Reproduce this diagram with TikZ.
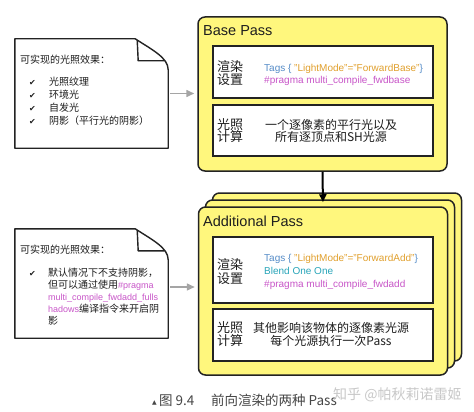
\documentclass[tikz,border=0pt]{standalone}
\usepackage{fontspec}
\setmainfont{Liberation Sans}
\newfontfamily\cjk{Noto Sans CJK SC}
\newfontfamily\symf{DejaVu Sans}
\usetikzlibrary{arrows.meta,calc}
\definecolor{passyellow}{RGB}{255,247,125}
\definecolor{edgec}{RGB}{35,35,35}
\definecolor{tagblue}{RGB}{85,140,200}
\definecolor{taggold}{RGB}{225,160,45}
\definecolor{pragmag}{RGB}{200,85,200}
\definecolor{blendteal}{RGB}{40,165,185}
\definecolor{arrowgray}{RGB}{165,165,165}
\definecolor{captiongray}{RGB}{70,70,70}
\definecolor{wmgray}{RGB}{200,200,200}
\definecolor{txtc}{RGB}{30,30,30}
\newcommand{\pcodefont}{\color{pragmag}\rmfamily\fontsize{9}{9}\selectfont}
\begin{document}
\begin{tikzpicture}[x=1pt,y=-1pt,
  passbox/.style={draw=edgec, line width=1.5pt, fill=passyellow, rounded corners=7pt,
    minimum width=249pt, inner sep=0pt},
  innerbox/.style={draw=edgec, line width=1.5pt, fill=white, minimum width=220pt, inner sep=0pt},
  notearea/.style={minimum width=153pt, minimum height=109pt, inner sep=0pt},
  noteline/.style={draw=edgec, line width=1.4pt, line join=round},
  title/.style={anchor=base west, inner sep=0pt, font=\fontsize{14.5}{15}\selectfont, text=txtc},
  lbl/.style={anchor=base west, inner sep=0pt, font=\cjk\fontsize{13}{13}\selectfont, text=txtc},
  desc/.style={anchor=base, inner sep=0pt, font=\cjk\fontsize{12}{12}\selectfont, text=txtc},
  code/.style={anchor=base west, inner sep=0pt, font=\fontsize{10}{10}\selectfont},
  notetxt/.style={anchor=base west, inner sep=0pt, font=\cjk\fontsize{10}{10}\selectfont, text=txtc},
  chk/.style={anchor=base west, inner sep=0pt, font=\symf\fontsize{8}{8}\selectfont, text=txtc},
  pcode/.style={text=pragmag, font=\fontsize{9}{9}\selectfont},
  grayarr/.style={draw=arrowgray, line width=1.5pt, -{Triangle[length=8pt,width=7pt]},
    shorten <=2pt, shorten >=3pt},
  blackarr/.style={draw=black, line width=2pt, -{Triangle[length=8pt,width=7pt]}, shorten >=4pt}
]
\useasboundingbox (0,0) rectangle (474,412);
\fill[white] (0,0) rectangle (474,412);

% ---------- Base Pass ----------
\node[passbox, minimum height=154pt] (base) at (322.5,94) {};
\node[innerbox, minimum height=52pt] (bset) at (323,72) {};
\node[innerbox, minimum height=51pt] (bcalc) at (323,130.5) {};
\node[title] (btitle) at (203,36) {Base Pass};
\node[lbl] (bl1) at (217,72) {渲染};
\node[lbl] (bl2) at (217,84.5) {设置};
\node[code] (bc1) at (264,71) {{\color{tagblue}Tags \{ }{\color{taggold}"LightMode"="ForwardBase"}{\color{tagblue}\}}};
\node[code, text=pragmag] (bc2) at (264,84) {\#pragma multi\_compile\_fwdbase};
\node[lbl] (bl3) at (217,129) {光照};
\node[lbl] (bl4) at (217,141.5) {计算};
\node[desc] (bd1) at (331,129) {一个逐像素的平行光以及};
\node[desc] (bd2) at (331,141.5) {所有逐顶点和SH光源};

% ---------- Additional Pass ----------
\node[passbox, minimum height=168pt] (addback) at (337,277) {};
\node[passbox, minimum height=168pt] (addmid) at (330,284) {};
\node[passbox, minimum height=168pt] (addfront) at (323,291) {};
\node[innerbox, minimum height=66pt] (aset) at (323,270) {};
\node[innerbox, minimum height=52pt] (acalc) at (323,335) {};
\node[title] (atitle) at (203,226) {Additional Pass};
\node[lbl] (al1) at (217,269) {渲染};
\node[lbl] (al2) at (217,283) {设置};
\node[code] (ac1) at (264,261.5) {{\color{tagblue}Tags \{ }{\color{taggold}"LightMode"="ForwardAdd"}{\color{tagblue}\}}};
\node[code, text=blendteal] (ac2) at (264,274.5) {Blend One One};
\node[code, text=pragmag] (ac3) at (264,287.5) {\#pragma multi\_compile\_fwdadd};
\node[lbl] (al3) at (217,332) {光照};
\node[lbl] (al4) at (217,345.5) {计算};
\node[desc] (ad1) at (331,332) {其他影响该物体的逐像素光源};
\node[desc] (ad2) at (331,345.5) {每个光源执行一次Pass};

% ---------- Notes ----------
\node[notearea] (note1) at (91.5,93.5) {};
\draw[noteline] (note1.north west) -- ($(note1.north east)+(-33,0)$)
  .. controls ($(note1.north east)+(-16,11)$) and ($(note1.north east)+(0,19)$) .. ($(note1.north east)+(0,31)$)
  -- (note1.south east) -- (note1.south west) -- cycle;
\draw[noteline] ($(note1.north east)+(-31,1)$) -- ($(note1.north east)+(-30,22)$) -- ($(note1.north east)+(-3.5,22)$);
\node[notetxt] (n1t) at (20,63.5) {可实现的光照效果：};
\node[chk] (n1ca) at (29,85) {✔};
\node[chk] (n1cb) at (29,98.5) {✔};
\node[chk] (n1cc) at (29,111) {✔};
\node[chk] (n1cd) at (29,124) {✔};
\node[notetxt] (n1a) at (49,85) {光照纹理};
\node[notetxt] (n1b) at (49,98.5) {环境光};
\node[notetxt] (n1c) at (49,111) {自发光};
\node[notetxt] (n1d) at (49,124) {阴影（平行光的阴影）};

\node[notearea] (note2) at (91.5,283.5) {};
\draw[noteline] (note2.north west) -- ($(note2.north east)+(-33,0)$)
  .. controls ($(note2.north east)+(-16,11)$) and ($(note2.north east)+(0,19)$) .. ($(note2.north east)+(0,31)$)
  -- (note2.south east) -- (note2.south west) -- cycle;
\draw[noteline] ($(note2.north east)+(-31,1)$) -- ($(note2.north east)+(-30,22)$) -- ($(note2.north east)+(-3.5,22)$);
\node[notetxt] (n2t) at (20,253.5) {可实现的光照效果：};
\node[chk] (n2c) at (29,276) {✔};
\node[notetxt] (n2a) at (48,276) {默认情况下不支持阴影，};
\node[notetxt] (n2b) at (48,288.5) {但可以通过使用{\pcodefont\#pragma}};
\node[notetxt, pcode] (n2c2) at (48,300.5) {multi\_compile\_fwdadd\_fulls};
\node[notetxt] (n2d) at (48,312.5) {{\pcodefont hadows}编译指令来开启阴};
\node[notetxt] (n2e) at (48,324.5) {影};

% ---------- Connectors ----------
\draw[grayarr] (note1.east) -- (note1.east -| base.west);
\draw[grayarr] ([yshift=-3.5pt]note2.east) -- ([yshift=-3.5pt]note2.east -| addfront.west);
\draw[blackarr] (base.south) -- (addfront.north);

% ---------- Caption ----------
\node[anchor=base west, inner sep=0pt, font=\symf\fontsize{6}{6}\selectfont, text=captiongray] (captri) at (152,404) {▲};
\node[anchor=base west, inner sep=0pt, font=\cjk\fontsize{13.5}{13.5}\selectfont, text=captiongray] (cap1) at (159,405) {图 9.4};
\node[anchor=base west, inner sep=0pt, font=\cjk\fontsize{13.5}{13.5}\selectfont, text=captiongray] (cap2) at (211,405) {前向渲染的两种 Pass};
\node[anchor=base west, inner sep=0pt, font=\cjk\fontsize{14}{14}\selectfont, text=wmgray] (wm) at (333,399) {知乎 @帕秋莉诺雷姬};
\end{tikzpicture}
\end{document}
